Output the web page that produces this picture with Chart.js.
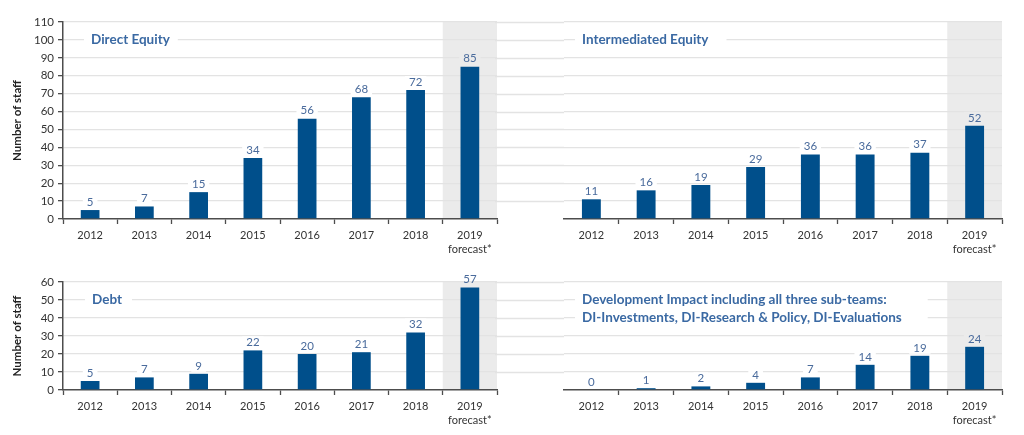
<!DOCTYPE html>
<html>
<head>
<meta charset="utf-8">
<script src="https://cdn.jsdelivr.net/npm/chart.js@4.4.1/dist/chart.umd.min.js"></script>
<style>
  html, body { margin: 0; padding: 0; background: #ffffff; }
  body { width: 1024px; height: 435px; position: relative; overflow: hidden; }
  .box { position: absolute; }
</style>
</head>
<body>
<div class="box" style="left:0px;top:0px;width:505px;height:258px;"><canvas id="c1"></canvas></div>
<div class="box" style="left:495px;top:0px;width:515px;height:258px;"><canvas id="c2"></canvas></div>
<div class="box" style="left:0px;top:258px;width:505px;height:177px;"><canvas id="c3"></canvas></div>
<div class="box" style="left:495px;top:258px;width:515px;height:177px;"><canvas id="c4"></canvas></div>
<script>
// ---- data ----
const categories = ['2012', '2013', '2014', '2015', '2016', '2017', '2018', '2019'];
const tickLabels = ['2012', '2013', '2014', '2015', '2016', '2017', '2018', ['2019', 'forecast*']];
const directEquity = [5, 7, 15, 34, 56, 68, 72, 85];
const intermediatedEquity = [11, 16, 19, 29, 36, 36, 37, 52];
const debt = [5, 7, 9, 22, 20, 21, 32, 57];
const developmentImpact = [0, 1, 2, 4, 7, 14, 19, 24];
const topAxisMax = 110;
const bottomAxisMax = 60;
const axisStep = 10;
const forecastIndex = 7;
const yAxisTitle = 'Number of staff';
const titleDirectEquity = ['Direct Equity'];
const titleIntermediated = ['Intermediated Equity'];
const titleDebt = ['Debt'];
const titleDevImpact = ['Development Impact including all three sub-teams:', 'DI-Investments, DI-Research & Policy, DI-Evaluations'];

// ---- styles ----
const FONT = 'Lato, "Open Sans", sans-serif';
const BAR = '#004f8b';
const SHADE = '#ebebeb';
const GRID = '#e3e3e3';
const AXIS = '#4d4d4d';
const LABEL = '#4a6b9c';
const TITLE = '#3a69a3';

const shadePlugin = {
  id: 'shade',
  beforeDraw(chart) {
    const {ctx, chartArea, scales} = chart;
    const x = scales.x;
    const w = x.getPixelForValue(1) - x.getPixelForValue(0);
    const left = x.getPixelForValue(forecastIndex) - w / 2;
    ctx.save();
    ctx.fillStyle = SHADE;
    ctx.fillRect(left, chartArea.top, chartArea.right - left, chartArea.bottom - chartArea.top);
    ctx.restore();
  }
};

const gridExtendPlugin = {
  id: 'gridExtend',
  beforeDatasetsDraw(chart, args, opts) {
    if (!opts.enabled) return;
    const {ctx, chartArea, scales} = chart;
    const y = scales.y;
    ctx.save();
    ctx.strokeStyle = GRID;
    ctx.lineWidth = 1.3;
    y.ticks.forEach(t => {
      if (t.value === 0) return;
      const py = Math.round(y.getPixelForValue(t.value)) + 0.5;
      ctx.beginPath();
      ctx.moveTo(0, py);
      ctx.lineTo(chartArea.left, py);
      ctx.stroke();
    });
    ctx.restore();
  }
};

const labelPlugin = {
  id: 'valueLabels',
  afterDatasetsDraw(chart, args, opts) {
    const {ctx, chartArea} = chart;
    const meta = chart.getDatasetMeta(0);
    const vals = chart.data.datasets[0].data;
    ctx.save();
    ctx.font = '11.5px ' + FONT;
    ctx.textAlign = 'center';
    ctx.textBaseline = 'middle';
    meta.data.forEach((bar, i) => {
      const txt = String(vals[i]);
      const cy = bar.y - 8;
      const tw = ctx.measureText(txt).width;
      const top = Math.max(cy - 6, chartArea.top + 1);
      ctx.fillStyle = i === forecastIndex ? SHADE : '#ffffff';
      if (cy + 6 > top) ctx.fillRect(bar.x - tw / 2 - 4, top, tw + 8, cy + 6 - top);
      ctx.fillStyle = LABEL;
      ctx.fillText(txt, bar.x, cy);
    });
    // panel title
    const lines = opts.lines || [];
    ctx.font = 'bold 13.5px ' + FONT;
    ctx.textAlign = 'left';
    let maxW = 0;
    lines.forEach(l => { maxW = Math.max(maxW, ctx.measureText(l).width); });
    const tx = chartArea.left + opts.dx;
    const ty = chartArea.top + 18;
    const lh = 18;
    ctx.fillStyle = '#ffffff';
    ctx.fillRect(tx - 7, ty - 9, maxW + 7 + opts.padR, lh * (lines.length - 1) + 18);
    ctx.fillStyle = TITLE;
    lines.forEach((l, k) => ctx.fillText(l, tx, ty + k * lh));
    ctx.restore();
  }
};

function makeChart(id, values, yMax, cfg) {
  return new Chart(document.getElementById(id), {
    type: 'bar',
    data: {
      labels: categories,
      datasets: [{
        data: values,
        backgroundColor: BAR,
        borderWidth: 0,
        barPercentage: 0.345,
        categoryPercentage: 1.0
      }]
    },
    options: {
      responsive: true,
      maintainAspectRatio: false,
      animation: false,
      events: [],
      layout: { padding: { top: cfg.padTop, right: 8, left: 0, bottom: 0 } },
      plugins: {
        legend: { display: false },
        tooltip: { enabled: false },
        gridExtend: { enabled: !cfg.showY },
        valueLabels: { lines: cfg.title, dx: cfg.titleDx, padR: cfg.titlePadR }
      },
      scales: {
        x: {
          offset: true,
          grid: {
            offset: true,
            drawOnChartArea: false,
            drawTicks: true,
            tickLength: 5,
            tickWidth: 1.3,
            tickColor: (c) => (!cfg.showY && c.index === 0) ? 'rgba(0,0,0,0)' : AXIS,
          },
          border: { display: true, color: AXIS, width: 1.5 },
          ticks: {
            callback: (v, i) => tickLabels[i],
            color: '#333333',
            font: { family: FONT, size: 11, lineHeight: 1.3 },
            padding: 4,
            maxRotation: 0,
            autoSkip: false
          },
          afterFit: (s) => { s.height = cfg.xHeight; }
        },
        y: {
          min: 0,
          max: yMax,
          ticks: {
            stepSize: axisStep,
            display: cfg.showY,
            color: '#333333',
            font: { family: FONT, size: 11.5 },
            padding: 4
          },
          grid: {
            color: (c) => c.tick && c.tick.value === 0 ? 'rgba(0,0,0,0)' : GRID,
            lineWidth: 1.3,
            drawTicks: cfg.showY,
            tickLength: 5,
            tickColor: AXIS,
            tickWidth: 1.3
          },
          border: { display: cfg.showY, color: AXIS, width: 1.5 },
          title: {
            display: cfg.showY,
            text: yAxisTitle,
            color: '#222222',
            font: { family: FONT, size: 11.5, weight: 'bold' },
            padding: { top: 10, bottom: 10 }
          },
          afterFit: (s) => { s.width = cfg.yWidth; }
        }
      }
    },
    plugins: [shadePlugin, gridExtendPlugin, labelPlugin]
  });
}

makeChart('c1', directEquity, topAxisMax, {padTop: 22, xHeight: 39, yWidth: 63, showY: true, title: titleDirectEquity, titleDx: 28, titlePadR: 8});
makeChart('c2', intermediatedEquity, topAxisMax, {padTop: 22, xHeight: 39, yWidth: 69, showY: false, title: titleIntermediated, titleDx: 18, titlePadR: 18});
makeChart('c3', debt, bottomAxisMax, {padTop: 24, xHeight: 45, yWidth: 63, showY: true, title: titleDebt, titleDx: 29, titlePadR: 10});
makeChart('c4', developmentImpact, bottomAxisMax, {padTop: 24, xHeight: 45, yWidth: 69, showY: false, title: titleDevImpact, titleDx: 18, titlePadR: 26});
</script>
</body>
</html>
